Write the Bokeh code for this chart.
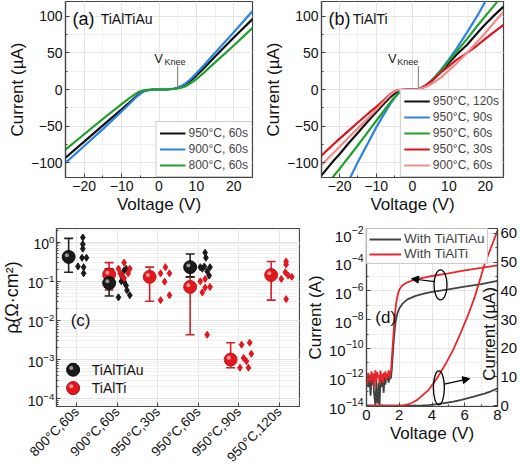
import math
from bokeh.plotting import figure
from bokeh.layouts import column, row
from bokeh.models import (Range1d, LinearAxis, FixedTicker, SingleIntervalTicker, Legend,
                          LegendItem, Label, Whisker, ColumnDataSource, Arrow, NormalHead,
                          TeeHead, LogTickFormatter, LinearScale)
from bokeh.embed import file_html
from bokeh.resources import INLINE

FONT = "Liberation Sans"

# ---------------- panel (a) TiAlTiAu I-V ----------------
va = [-25, -20, -15, -10, -8, -6, -5, -4, -3, -2, 0, 2, 4, 5, 6, 7, 8, 10, 12, 15, 20, 25]
a_950_60 = [-93, -71, -49, -27, -18, -9, -5, -2, -0.8, -0.3, 0, 0.3, 1, 2, 4, 7, 10, 19, 29, 45, 71, 96]
a_900_60 = [-100, -77, -54, -30, -20, -10, -6, -2.5, -1, -0.3, 0, 0.3, 1.2, 2.5, 5, 8, 12, 22, 33, 50, 78, 107]
a_800_60 = [-82, -61, -40, -20, -12, -5, -2.5, -1, -0.4, -0.2, 0, 0.2, 0.8, 1.5, 2.5, 4, 7, 14, 23, 37, 60, 84]
a_labels = ["950°C, 60s", "900°C, 60s", "800°C, 60s"]
knee_a = 5

# ---------------- panel (b) TiAlTi I-V ----------------
vb = [-25, -22, -20, -17.5, -15, -12, -10, -8, -6, -5, -4, -3, -2, 0, 1.5, 2, 3, 4, 6, 8, 10, 12, 15, 18, 20, 22, 25]
b_950_120 = [-117, -99, -88, -73, -59, -42, -31, -20, -10, -6, -3, -1, -0.3, 0, 0.5, 1, 3, 6, 15, 25, 36, 47, 61, 78, 89, 99, 113]
b_950_90 = [-200, -170, -150, -124, -99, -71, -52, -35, -19, -12, -6, -2, -0.4, 0, 0.5, 1, 3, 6, 16, 28, 41, 55, 78, 102, 120, 138, 163]
b_950_60 = [-135, -120, -108, -92, -76, -56, -43, -30, -17, -11, -6, -2, -0.4, 0, 0.5, 1, 3, 6.5, 16, 27, 39, 51, 69, 88, 100, 112, 130]
b_950_30 = [-90, -76, -67, -56, -45, -32, -24, -15, -6, -2.5, -0.8, -0.3, -0.1, 0, 0.5, 1.5, 4, 7, 15, 24, 32, 40, 50, 61, 69, 77, 88]
b_900_60 = [-103, -88, -78, -65, -53, -38, -28, -17, -7, -3, -1, -0.3, -0.1, 0, 0.3, 1, 2.5, 4.5, 10, 17, 26, 35, 50, 66, 77, 89, 106]
b_labels = ["950°C, 120s", "950°C, 90s", "950°C, 60s", "950°C, 30s", "900°C, 60s"]
knee_b = 1.6

# ---------------- panel (c) contact resistivity ----------------
categories = ["800°C,60s", "900°C,60s", "950°C,30s", "950°C,60s", "950°C,90s", "950°C,120s"]
au_cat = [1, 2, 4]
au_mean = [0.42, 0.09, 0.23]
au_low = [0.17, 0.042, 0.13]
au_high = [1.25, 0.21, 0.50]
ti_cat = [2, 3, 4, 5, 6]
ti_mean = [0.15, 0.13, 0.072, 0.001, 0.145]
ti_low = [0.06, 0.031, 0.0043, 0.00062, 0.033]
ti_high = [0.30, 0.23, 0.13, 0.0027, 0.32]

au_pts_1 = [1.32, 0.89, 0.68, 0.40, 0.40, 0.24, 0.23, 0.16]
au_jit_1 = [0.15, 0.15, 0.15, 0.13, 0.24, 0.03, 0.17, 0.17]
au_pts_2 = [0.19, 0.21, 0.13, 0.10, 0.098, 0.078, 0.059, 0.044, 0.039]
au_jit_2 = [0.17, 0.22, 0.12, 0.10, 0.17, 0.22, 0.24, 0.31, 0.03]
au_pts_4 = [0.54, 0.40, 0.23, 0.24, 0.23, 0.18, 0.14, 0.21]
au_jit_4 = [0.17, 0.19, 0.05, 0.15, 0.29, 0.22, 0.27, 0.10]
ti_pts_2 = [0.30, 0.21, 0.21, 0.16, 0.16, 0.12, 0.14]
ti_jit_2 = [0.17, 0.03, 0.31, 0.07, 0.27, 0.17, 0.12]
ti_pts_3 = [0.23, 0.16, 0.16, 0.098, 0.044, 0.033]
ti_jit_3 = [0.19, 0.07, 0.29, 0.17, 0.29, 0.07]
ti_pts_4 = [0.10, 0.115, 0.069, 0.072, 0.052, 0.0043]
ti_jit_4 = [0.05, 0.17, 0.17, 0.29, 0.10, 0.22]
ti_pts_5 = [0.0024, 0.0027, 0.0014, 0.0011, 0.00091, 0.00062, 0.00062]
ti_jit_5 = [0.07, 0.27, 0.31, 0.12, 0.19, 0.03, 0.24]
ti_pts_6 = [0.32, 0.27, 0.17, 0.14, 0.13, 0.115, 0.035]
ti_jit_6 = [0.17, 0.17, 0.15, 0.22, 0.31, 0.05, 0.17]

# ---------------- panel (d) LED I-V ----------------
vd_noise = [0.0, 0.05, 0.1, 0.15, 0.2, 0.25, 0.3, 0.35, 0.4, 0.45, 0.5, 0.55, 0.6, 0.65, 0.7,
            0.75, 0.8, 0.85, 0.9, 0.95, 1.0, 1.05, 1.1, 1.15, 1.2, 1.25, 1.3, 1.35, 1.4, 1.45]
vd_rise = [1.5, 1.55, 1.6, 1.65, 1.7, 1.75, 1.8, 1.9, 2.0, 2.2, 2.5, 3, 3.5, 4, 5, 6, 7, 8]
d_au_noise = [3e-13, 8e-13, 2e-13, 1.2e-12, 5e-13, 5e-14, 9e-13, 3e-13, 1.5e-12, 1e-13, 3e-14, 1e-14,
              6e-13, 2e-14, 1.5e-14, 4e-13, 1e-14, 7e-13, 2e-13, 1e-12, 5e-13, 8e-14, 1.2e-12, 3e-13,
              9e-13, 6e-13, 1.5e-12, 4e-13, 1.1e-12, 7e-13]
d_ti_noise = [1e-12, 3e-13, 2e-12, 6e-13, 1.5e-12, 4e-13, 2.5e-12, 8e-13, 1.8e-12, 2e-13, 1.2e-12, 3e-12,
              5e-13, 2.2e-12, 9e-13, 1.4e-12, 3e-13, 2.8e-12, 7e-13, 1.6e-12, 4e-13, 2e-12, 1e-12, 2.5e-12,
              6e-13, 1.8e-12, 1.2e-12, 3e-12, 8e-13, 2e-12]
d_au_rise = [1e-12, 4e-12, 3e-11, 2e-10, 1e-9, 4e-9, 1e-8, 3e-8, 6e-8, 1.3e-7, 2.6e-7, 4.5e-7, 6.5e-7,
             8.5e-7, 1.3e-6, 2e-6, 3e-6, 5e-6]
d_ti_rise = [3e-12, 2e-11, 1.5e-10, 1e-9, 6e-9, 3e-8, 1.2e-7, 5e-7, 1.2e-6, 2.5e-6, 4e-6, 6.5e-6, 8.5e-6,
             1.1e-5, 1.7e-5, 2.7e-5, 4e-5, 6e-5]
vd_lin = [0, 1, 2, 2.2, 2.5, 2.8, 3.1, 3.4, 3.8, 4.3, 4.85, 5.3, 5.8, 6.2, 6.6, 7.2, 7.6, 8]
d_ti_lin = [0, 0, 0, 0, 0.4, 1, 2, 3.5, 5.5, 9.5, 14.7, 19.5, 26, 31.5, 37.7, 49, 55, 61]
d_au_lin = [0, 0, 0, 0, 0, 0, 0, 0.05, 0.2, 0.5, 1, 1.4, 2, 2.6, 3.2, 4.2, 5, 6]
d_labels = ["With TiAlTiAu", "With TiAlTi"]


def style(p, tick_size="14px", label_size="17px"):
    p.outline_line_color = "#444444"
    p.outline_line_width = 1.2
    p.background_fill_color = "white"
    p.border_fill_color = "white"
    for ax in p.axis:
        ax.axis_line_color = "#444444"
        ax.axis_line_width = 1.2
        ax.major_tick_in = 4
        ax.major_tick_out = 0
        ax.minor_tick_in = 2
        ax.minor_tick_out = 0
        ax.major_tick_line_color = "#444444"
        ax.minor_tick_line_color = "#444444"
        ax.major_label_text_font = FONT
        ax.major_label_text_font_size = tick_size
        ax.major_label_text_color = "#111111"
        ax.axis_label_text_font = FONT
        ax.axis_label_text_font_size = label_size
        ax.axis_label_text_font_style = "normal"
        ax.axis_label_text_color = "#111111"
        ax.major_label_standoff = 3
        ax.axis_label_standoff = 1
    p.grid.grid_line_color = "#e4e4e4"
    p.grid.minor_grid_line_color = "#f0f0f0"


def iv_panel(left, right, curves, labels, colors, tag, name, knee, vx, kx):
    p = figure(width=260, height=216, x_range=Range1d(-25, 25), y_range=Range1d(-120, 120),
               output_backend="svg", toolbar_location=None,
               min_border_left=left, min_border_right=right, min_border_top=1, min_border_bottom=38)
    p.xaxis.ticker = SingleIntervalTicker(interval=10, num_minor_ticks=2)
    p.yaxis.ticker = SingleIntervalTicker(interval=50, num_minor_ticks=2)
    p.xaxis.axis_label = "Voltage (V)"
    p.yaxis.axis_label = "Current (µA)"
    style(p)
    items = []
    for (xs, ys), lab, col in zip(curves, labels, colors):
        r = p.line(xs, ys, line_color=col, line_width=2.2)
        items.append(LegendItem(label=lab, renderers=[r]))
    leg = Legend(items=items, location="bottom_right", label_text_font=FONT,
                 label_text_font_size="12px", glyph_width=26, glyph_height=16, label_height=16,
                 spacing=0, padding=3, margin=0, label_standoff=3,
                 border_line_color="#999999", background_fill_alpha=1.0)
    p.add_layout(leg)
    p.segment(x0=[knee], y0=[2], x1=[knee], y1=[32], line_color="#777777", line_width=1)
    p.add_layout(Label(x=vx, y=42, text="V", text_font=FONT, text_font_size="13px",
                       text_baseline="middle", text_align="left", text_color="#222222"))
    p.add_layout(Label(x=kx, y=37, text="Knee", text_font=FONT, text_font_size="9px",
                       text_baseline="middle", text_align="left", text_color="#222222"))
    p.add_layout(Label(x=-23.1, y=96, text=tag, text_font=FONT, text_font_size="18px",
                       text_baseline="middle", text_align="left", text_color="#111111"))
    p.add_layout(Label(x=tag_x[tag], y=96, text=name, text_font=FONT, text_font_size="14px",
                       text_baseline="middle", text_align="left", text_color="#111111"))
    return p


tag_x = {"(a)": -15.6, "(b)": -16.4}
BLACK, BLUE, GREEN, RED, PINK = "#111111", "#2a84e0", "#22a02c", "#d9141c", "#f28a8a"

pa = iv_panel(65, 8, [(va, a_950_60), (va, a_900_60), (va, a_800_60)], a_labels,
              [BLACK, BLUE, GREEN], "(a)", "TiAlTiAu", knee_a, -1.3, 1.5)
pb = iv_panel(57, 17, [(vb, b_950_120), (vb, b_950_90), (vb, b_950_60), (vb, b_950_30), (vb, b_900_60)],
              b_labels, [BLACK, BLUE, GREEN, RED, PINK], "(b)", "TiAlTi", knee_b, -6.7, -4.2)

# ---------------- label strip for (c) y-axis ----------------
plab = figure(width=24, height=257, x_range=Range1d(0, 24), y_range=Range1d(0, 257),
              output_backend="svg", toolbar_location=None, x_axis_location=None,
              y_axis_location=None, min_border=0)
plab.outline_line_color = None
plab.grid.visible = False
plab.background_fill_color = "white"
plab.border_fill_color = "white"
plab.add_layout(Label(x=11, y=105, text="ρ", text_font=FONT, text_font_size="18px",
                      angle=math.pi / 2, text_baseline="middle", text_align="left", text_color="#111111"))
plab.add_layout(Label(x=15, y=115, text="c", text_font=FONT, text_font_size="12px",
                      angle=math.pi / 2, text_baseline="middle", text_align="left", text_color="#111111"))
plab.add_layout(Label(x=11, y=121, text="(Ω·cm²)", text_font=FONT, text_font_size="18px",
                      angle=math.pi / 2, text_baseline="middle", text_align="left", text_color="#111111"))

# ---------------- panel (c) ----------------
pc = figure(width=276, height=257, x_range=Range1d(0.5, 6.5), y_range=Range1d(10 ** -4.2, 10 ** 0.35),
            y_axis_type="log", output_backend="svg", toolbar_location=None,
            min_border_left=27, min_border_right=1, min_border_top=7, min_border_bottom=66)
pc.xaxis.ticker = FixedTicker(ticks=[1, 2, 3, 4, 5, 6], minor_ticks=[])
pc.xaxis.major_label_overrides = {i + 1: c for i, c in enumerate(categories)}
pc.xaxis.major_label_orientation = math.pi / 4
style(pc, tick_size="14px")
pc.xaxis.major_label_text_font_size = "13.5px"
pc.yaxis.major_label_standoff = 2

SHIFT = -0.2
AU_C, TI_C = "#1a1a1a", "#e3161e"
AU_E, TI_E = "#222222", "#cc2229"
au_src = ColumnDataSource(dict(x=[c + SHIFT for c in au_cat], m=au_mean, lo=au_low, hi=au_high))
ti_src = ColumnDataSource(dict(x=[c + SHIFT for c in ti_cat], m=ti_mean, lo=ti_low, hi=ti_high))
for src, col in ((ti_src, TI_E), (au_src, AU_E)):
    pc.add_layout(Whisker(source=src, base="x", upper="hi", lower="lo", dimension="height",
                          line_color=col, line_width=1.6,
                          upper_head=TeeHead(size=9, line_color=col, line_width=1.6),
                          lower_head=TeeHead(size=9, line_color=col, line_width=1.6)))
pc.scatter("x", "m", source=ti_src, size=13, fill_color=TI_C, line_color="#b01015", line_width=0.8)
pc.scatter("x", "m", source=au_src, size=13, fill_color=AU_C, line_color="#000000", line_width=0.8)
hl = 10 ** 0.045
pc.scatter([x - 0.045 for x in ti_src.data["x"]], [m * hl for m in ti_mean], size=4, fill_color="#ff9a9a",
           line_color=None)
pc.scatter([x - 0.045 for x in au_src.data["x"]], [m * hl for m in au_mean], size=4, fill_color="#9a9a9a",
           line_color=None)

for cat, pts, jit in ((1, au_pts_1, au_jit_1), (2, au_pts_2, au_jit_2), (4, au_pts_4, au_jit_4)):
    pc.scatter([cat + j for j in jit], pts, marker="diamond", size=7, fill_color=AU_C, line_color=AU_C)
for cat, pts, jit in ((2, ti_pts_2, ti_jit_2), (3, ti_pts_3, ti_jit_3), (4, ti_pts_4, ti_jit_4),
                      (5, ti_pts_5, ti_jit_5), (6, ti_pts_6, ti_jit_6)):
    pc.scatter([cat + j for j in jit], pts, marker="diamond", size=7, fill_color=TI_C, line_color=TI_C)

# legend of (c)
pc.scatter([0.91], [10 ** -3.26], size=13, fill_color=AU_C, line_color="#000000")
pc.scatter([0.91], [10 ** -3.73], size=13, fill_color=TI_C, line_color="#b01015")
pc.scatter([0.91 - 0.045], [10 ** -3.26 * hl], size=4, fill_color="#9a9a9a", line_color=None)
pc.scatter([0.91 - 0.045], [10 ** -3.73 * hl], size=4, fill_color="#ff9a9a", line_color=None)
for yy, txt in ((10 ** -3.26, "TiAlTiAu"), (10 ** -3.73, "TiAlTi")):
    pc.add_layout(Label(x=1.37, y=yy, text=txt, text_font=FONT, text_font_size="14px",
                        text_baseline="middle", text_align="left", text_color="#111111"))
pc.add_layout(Label(x=0.85, y=10 ** -2.0, text="(c)", text_font=FONT, text_font_size="17px",
                    text_baseline="middle", text_align="left", text_color="#111111"))

# ---------------- panel (d) ----------------
pdd = figure(width=220, height=257, x_range=Range1d(0, 8), y_range=Range1d(10 ** -14.05, 10 ** -1.65),
             y_axis_type="log", output_backend="svg", toolbar_location=None,
             min_border_left=66, min_border_right=20, min_border_top=12, min_border_bottom=64)
pdd.extra_y_ranges = {"lin": Range1d(-0.3, 61.7)}
pdd.extra_y_scales = {"lin": LinearScale()}
pdd.xaxis.ticker = SingleIntervalTicker(interval=2, num_minor_ticks=2)
pdd.yaxis.ticker = FixedTicker(ticks=[10.0 ** e for e in range(-14, -1, 2)],
                               minor_ticks=[10.0 ** e for e in range(-15, 0)])
pdd.yaxis.formatter = LogTickFormatter()
pdd.xaxis.axis_label = "Voltage (V)"
pdd.yaxis.axis_label = "Current (A)"
rax = LinearAxis(y_range_name="lin", ticker=SingleIntervalTicker(interval=10, num_minor_ticks=2))
pdd.add_layout(rax, "right")
style(pdd, tick_size="15px")
GREY, DRED = "#414141", "#e8262a"
r_au = pdd.line(vd_noise + vd_rise, d_au_noise + d_au_rise, line_color=GREY, line_width=1.8)
r_ti = pdd.line(vd_noise + vd_rise, d_ti_noise + d_ti_rise, line_color=DRED, line_width=1.8)
pdd.line(vd_lin, d_au_lin, line_color=GREY, line_width=1.8, y_range_name="lin")
pdd.line(vd_lin, d_ti_lin, line_color=DRED, line_width=1.8, y_range_name="lin")
legd = Legend(items=[LegendItem(label=d_labels[0], renderers=[r_au]),
                     LegendItem(label=d_labels[1], renderers=[r_ti])],
              location="top_left", label_text_font=FONT, label_text_font_size="13.5px",
              glyph_width=32, glyph_height=14, label_height=14, spacing=0, padding=2, margin=0,
              label_standoff=3, border_line_color="#999999", background_fill_color="#ffffff",
              background_fill_alpha=0.85)
pdd.add_layout(legd)
pdd.ellipse(x=[4.52], y=[10 ** -5.58], width=13, height=30, width_units="screen", height_units="screen",
            fill_color=None, line_color="black", line_width=1.3)
pdd.ellipse(x=[4.42], y=[6.2], width=11, height=34, width_units="screen", height_units="screen",
            fill_color=None, line_color="black", line_width=1.3, y_range_name="lin")
pdd.add_layout(Arrow(end=NormalHead(size=7, fill_color="black", line_color="black"),
                     x_start=4.15, y_start=10 ** -5.35, x_end=2.75, y_end=10 ** -5.15,
                     line_color="black", line_width=1.2))
pdd.add_layout(Arrow(end=NormalHead(size=7, fill_color="black", line_color="black"),
                     x_start=4.75, y_start=7.5, x_end=6.3, y_end=9.4, y_range_name="lin",
                     line_color="black", line_width=1.2))
pdd.add_layout(Label(x=0.54, y=10 ** -7.84, text="(d)", text_font=FONT, text_font_size="17px",
                     text_baseline="middle", text_align="left", text_color="#111111"))
pdd.add_layout(Label(x=7.52, y=25, y_range_name="lin", text="Current (µA)", text_font=FONT,
                     text_font_size="17px", angle=math.pi / 2, text_baseline="middle",
                     text_align="center", text_color="#111111"))

layout = column(row(pa, pb), row(plab, pc, pdd))
open("out.html", "w").write(file_html(layout, INLINE))
